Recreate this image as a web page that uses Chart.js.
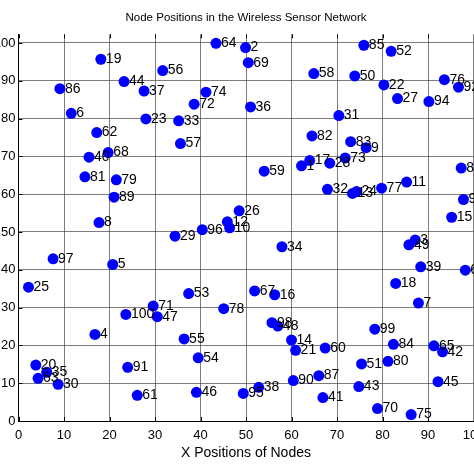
<!DOCTYPE html>
<html>
<head>
<meta charset="utf-8">
<title>Node Positions in the Wireless Sensor Network</title>
<script src="https://cdn.jsdelivr.net/npm/chart.js@4.4.0/dist/chart.umd.min.js"></script>
<style>
  html, body { margin: 0; padding: 0; background: #fff; overflow: hidden; width: 474px; height: 474px; }
  #wrap { position: absolute; left: -40px; top: 0; width: 572px; height: 474px; }
</style>
</head>
<body>
<div id="wrap"><canvas id="nodes" width="572" height="474"></canvas></div>
<script>
// node ids and their positions
const nodeIds = [
  1, 2, 3, 4, 5, 6, 7, 8, 9, 10,
  11, 12, 13, 14, 15, 16, 17, 18, 19, 20,
  21, 22, 23, 24, 25, 26, 27, 28, 29, 30,
  31, 32, 33, 34, 35, 36, 37, 38, 39, 40,
  41, 42, 43, 44, 45, 46, 47, 48, 49, 50,
  51, 52, 53, 54, 55, 56, 57, 58, 59, 60,
  61, 62, 63, 64, 65, 66, 67, 68, 69, 70,
  71, 72, 73, 74, 75, 76, 77, 78, 79, 80,
  81, 82, 83, 84, 85, 86, 87, 88, 89, 90,
  91, 92, 93, 94, 95, 96, 97, 98, 99, 100
];
const xPositions = [
  62.2, 49.9, 87.2, 16.8, 20.7, 11.6, 87.9, 17.7, 76.4, 46.4,
  85.3, 45.9, 73.4, 60.0, 95.2, 56.3, 64.0, 82.9, 18.1, 3.8,
  60.9, 80.3, 28.0, 74.3, 2.2, 48.5, 83.3, 68.4, 34.4, 8.7,
  70.4, 67.9, 35.2, 57.9, 6.2, 51.0, 27.6, 52.8, 88.4, 15.5,
  66.9, 93.2, 74.8, 23.2, 92.2, 39.1, 30.5, 57.0, 85.8, 73.9,
  75.4, 81.9, 37.4, 39.5, 36.4, 31.7, 35.6, 64.9, 54.0, 67.4,
  26.1, 17.2, 4.3, 43.4, 91.3, 98.2, 51.9, 19.7, 50.5, 78.9,
  29.6, 38.6, 71.8, 41.2, 86.3, 93.6, 79.8, 45.1, 21.5, 81.2,
  14.6, 64.5, 73.0, 82.4, 75.9, 9.1, 66.0, 97.3, 21.0, 60.4,
  24.0, 96.7, 97.8, 90.2, 49.4, 40.4, 7.6, 55.7, 78.3, 23.6
];
const yPositions = [
  67.5, 98.8, 47.9, 22.9, 41.4, 81.4, 31.2, 52.5, 72.3, 51.1,
  63.2, 52.7, 60.2, 21.4, 53.9, 33.4, 68.9, 36.4, 95.7, 14.8,
  18.7, 88.9, 79.9, 60.7, 35.4, 55.6, 85.3, 68.2, 48.9, 9.7,
  80.8, 61.3, 79.4, 46.1, 12.9, 83.1, 87.3, 8.9, 40.8, 69.8,
  6.2, 18.3, 9.1, 89.8, 10.4, 7.6, 27.6, 25.1, 46.6, 91.3,
  15.1, 97.8, 33.7, 16.7, 21.7, 92.7, 73.4, 91.9, 66.1, 19.3,
  6.8, 76.3, 11.3, 99.9, 19.9, 39.9, 34.4, 71.0, 94.8, 3.3,
  30.4, 83.8, 69.6, 87.0, 1.7, 90.3, 61.6, 29.7, 63.8, 15.8,
  64.6, 75.4, 73.9, 20.3, 99.4, 87.9, 12.0, 66.9, 59.2, 10.7,
  14.2, 88.3, 58.6, 84.5, 7.3, 50.6, 42.9, 26.0, 24.3, 28.2
];

const FONT = "'Liberation Sans', Arial, Helvetica, sans-serif";

const points = xPositions.map((x, i) => ({ x: x, y: yPositions[i] }));

// writes the node number to the right of each dot
const nodeLabels = {
  id: 'nodeLabels',
  afterDatasetsDraw(chart) {
    const ctx = chart.ctx;
    const meta = chart.getDatasetMeta(0);
    ctx.save();
    ctx.font = '14px ' + FONT;
    ctx.fillStyle = '#000';
    ctx.textAlign = 'left';
    ctx.textBaseline = 'middle';
    meta.data.forEach((pt, i) => {
      ctx.fillText(String(nodeIds[i]), pt.x + 5, pt.y);
    });
    ctx.restore();
  }
};

// matlab style ticks pointing into the box
const innerTicks = {
  id: 'innerTicks',
  afterDraw(chart) {
    const ctx = chart.ctx;
    const area = chart.chartArea;
    const xs = chart.scales.x;
    const ys = chart.scales.y;
    ctx.save();
    ctx.strokeStyle = '#000';
    ctx.lineWidth = 1;
    ctx.beginPath();
    xs.ticks.forEach(t => {
      const px = Math.round(xs.getPixelForValue(t.value)) + 0.5;
      ctx.moveTo(px, area.bottom);
      ctx.lineTo(px, area.bottom - 4);
      ctx.moveTo(px, area.top);
      ctx.lineTo(px, area.top + 4);
    });
    ys.ticks.forEach(t => {
      const py = Math.round(ys.getPixelForValue(t.value)) + 0.5;
      ctx.moveTo(area.left, py);
      ctx.lineTo(area.left + 4, py);
    });
    ctx.stroke();
    ctx.restore();
  }
};

new Chart(document.getElementById('nodes').getContext('2d'), {
  type: 'scatter',
  data: {
    datasets: [{
      data: points,
      backgroundColor: '#0000ff',
      borderColor: '#0000ff',
      borderWidth: 0,
      pointRadius: 5.5,
      pointHoverRadius: 5.5,
      clip: false
    }]
  },
  options: {
    responsive: false,
    animation: false,
    events: [],
    layout: { padding: { left: 0, right: 58.5, top: 7, bottom: 0 } },
    plugins: {
      legend: { display: false },
      tooltip: { enabled: false },
      title: {
        display: true,
        fullSize: false,
        text: 'Node Positions in the Wireless Sensor Network',
        color: '#000',
        font: { family: FONT, size: 11.5, weight: 'normal' },
        padding: { top: 4, bottom: 9.5 }
      }
    },
    scales: {
      x: {
        type: 'linear',
        min: 0,
        max: 100,
        ticks: {
          stepSize: 10,
          maxRotation: 0,
          color: '#000',
          padding: 7,
          font: { family: FONT, size: 13 }
        },
        grid: { color: 'rgba(70,70,70,0.7)', lineWidth: 1, drawTicks: false },
        border: { color: '#000', width: 1 },
        title: {
          display: true,
          text: 'X Positions of Nodes',
          color: '#000',
          font: { family: FONT, size: 14 },
          padding: { top: 0, bottom: 12.6 }
        },
        afterFit: (s) => { s.height = 53; }
      },
      y: {
        type: 'linear',
        min: 0,
        max: 102.3,
        ticks: {
          stepSize: 10,
          includeBounds: false,
          color: '#000',
          padding: 3,
          font: { family: FONT, size: 13 }
        },
        grid: { color: 'rgba(70,70,70,0.7)', lineWidth: 1, drawTicks: false },
        border: { color: '#000', width: 1 },
        afterFit: (s) => { s.width = 58.5; }
      }
    }
  },
  plugins: [nodeLabels, innerTicks]
});
</script>
</body>
</html>
